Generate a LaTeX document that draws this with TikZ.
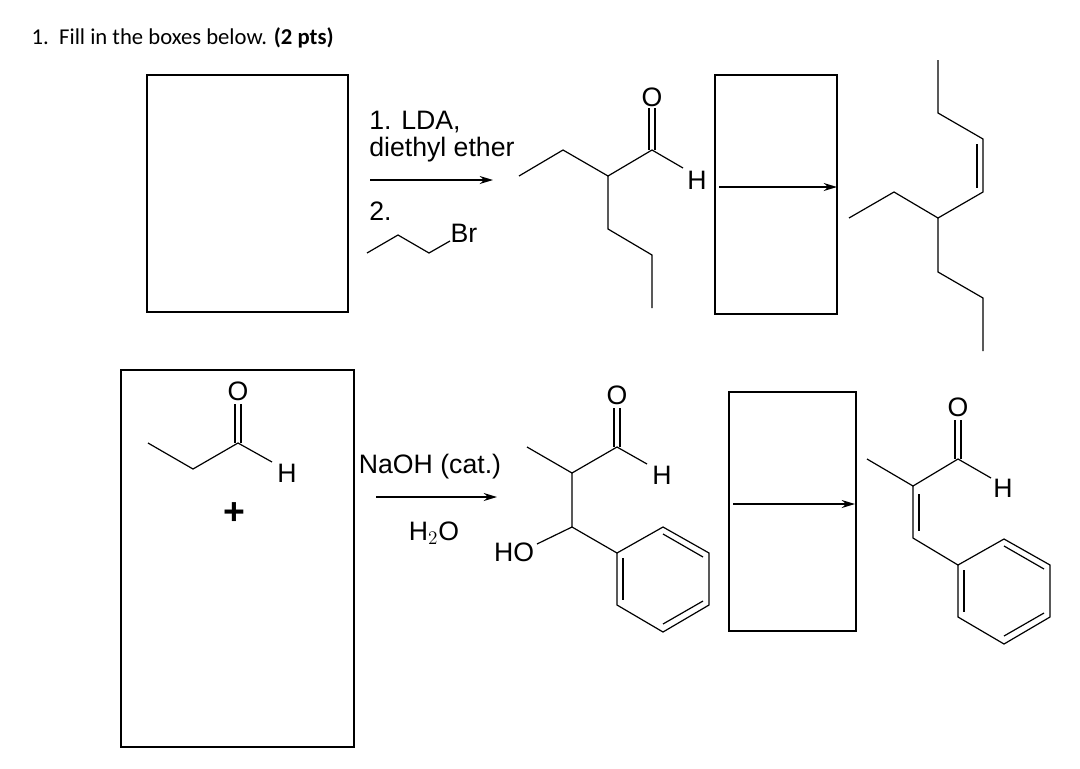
\documentclass[tikz,border=0pt]{standalone}
\usepackage{fontspec}
\setmainfont{Liberation Sans}
\newfontfamily\calib{Carlito}
\usetikzlibrary{arrows.meta}
\begin{document}
\begin{tikzpicture}[x=0.75pt,y=-0.75pt,
  bond/.style={line width=0.9pt},
  box/.style={draw,line width=1pt},
  rxn/.style={line width=0.9pt,-{Stealth[length=10pt,width=6pt]}},
  lbl/.style={font=\fontsize{20}{20}\selectfont,inner sep=0pt},
  rg/.style={font=\fontsize{20}{21}\selectfont,inner sep=0pt,anchor=west}]
\useasboundingbox (0,0) rectangle (1080,768);
\node[anchor=west,font=\calib\fontsize{17}{18}\selectfont] (title) at (27,38) {1.\ \ Fill in the boxes below. \textbf{(2 pts)}};
% boxes
\draw[box] (147,75) rectangle (348,312);
\draw[box] (715,75) rectangle (837,314);
\draw[box] (121,370) rectangle (354,747);
\draw[box] (729,392) rectangle (856,631);
% top reagents
\node[rg] (r1) at (369,122) {1. LDA,};
\node[rg] (r2) at (369,150) {diethyl ether};
\coordinate (a1s) at (370,180); \coordinate (a1e) at (493,180);
\draw[rxn] (a1s) -- (a1e);
\node[rg] (r3) at (369,211) {2.};
\node[lbl] (br) at (464,233) {Br};
\draw[bond] (367,253) -- (398,235) -- (429,253) -- (450,241);
% top aldehyde
\node[lbl] (o1) at (652,97) {O};
\node[lbl] (h1) at (697,180) {H};
\draw[bond] (519,176) -- (563,150) -- (608,176) -- (652,150) -- (683,168);
\draw[bond] (649,150) -- (649,108); \draw[bond] (655,150) -- (655,108);
\draw[bond] (608,176) -- (608,229) -- (652,255) -- (652,308);
\coordinate (a2s) at (719,187); \coordinate (a2e) at (837,187);
\draw[rxn] (a2s) -- (a2e);
% top right alkene
\draw[bond] (849,218) -- (894,192) -- (938,218) -- (983,192) -- (983,139) -- (938,113) -- (938,60);
\draw[bond] (977,144) -- (977,188);
\draw[bond] (938,218) -- (938,272) -- (983,298) -- (983,351);
% propanal
\node[lbl] (o2) at (238,391) {O};
\node[lbl] (h2) at (287,473) {H};
\draw[bond] (148,443) -- (193,469) -- (238,443) -- (272,462);
\draw[bond] (235,443) -- (235,404); \draw[bond] (241,443) -- (241,404);
\node[font=\fontsize{28}{28}\selectfont\bfseries,inner sep=0pt] (plus) at (234,514) {+};
% aldol reagents
\node[lbl] (naoh) at (430,467) {NaOH (cat.)};
\coordinate (a3s) at (376,497); \coordinate (a3e) at (497,497);
\draw[rxn] (a3s) -- (a3e);
\node[lbl] (h2o) at (434,533) {H$_2$O};
% aldol product
\node[lbl] (o3) at (617,395) {O};
\node[lbl] (h3) at (662,475) {H};
\node[lbl] (ho) at (514,552) {HO};
\draw[bond] (527,447) -- (572,473) -- (617,447) -- (647,464);
\draw[bond] (614,447) -- (614,408); \draw[bond] (620,447) -- (620,408);
\draw[bond] (572,473) -- (572,527) -- (537,544);
\draw[bond] (572,527) -- (617,553);
\begin{scope}[shift={(617,553)}]
\draw[bond] (0,0) -- (0,52) -- (46,79) -- (92,52) -- (92,0) -- (46,-26) -- cycle;
\draw[bond] (6,5) -- (6,47); \draw[bond] (46,71) -- (86,48); \draw[bond] (46,-19) -- (86,4);
\end{scope}
\coordinate (a4s) at (733,504); \coordinate (a4e) at (855,504);
\draw[rxn] (a4s) -- (a4e);
% enal product
\node[lbl] (o4) at (958,407) {O};
\node[lbl] (h4) at (1003,488) {H};
\draw[bond] (867,459) -- (913,486) -- (958,459) -- (991,478);
\draw[bond] (955,459) -- (955,420); \draw[bond] (961,459) -- (961,420);
\draw[bond] (913,486) -- (913,538) -- (958,565);
\draw[bond] (919,494) -- (919,531);
\begin{scope}[shift={(958,565)}]
\draw[bond] (0,0) -- (0,52) -- (46,79) -- (92,52) -- (92,0) -- (46,-26) -- cycle;
\draw[bond] (6,5) -- (6,47); \draw[bond] (46,71) -- (86,48); \draw[bond] (46,-19) -- (86,4);
\end{scope}
\end{tikzpicture}
\end{document}
